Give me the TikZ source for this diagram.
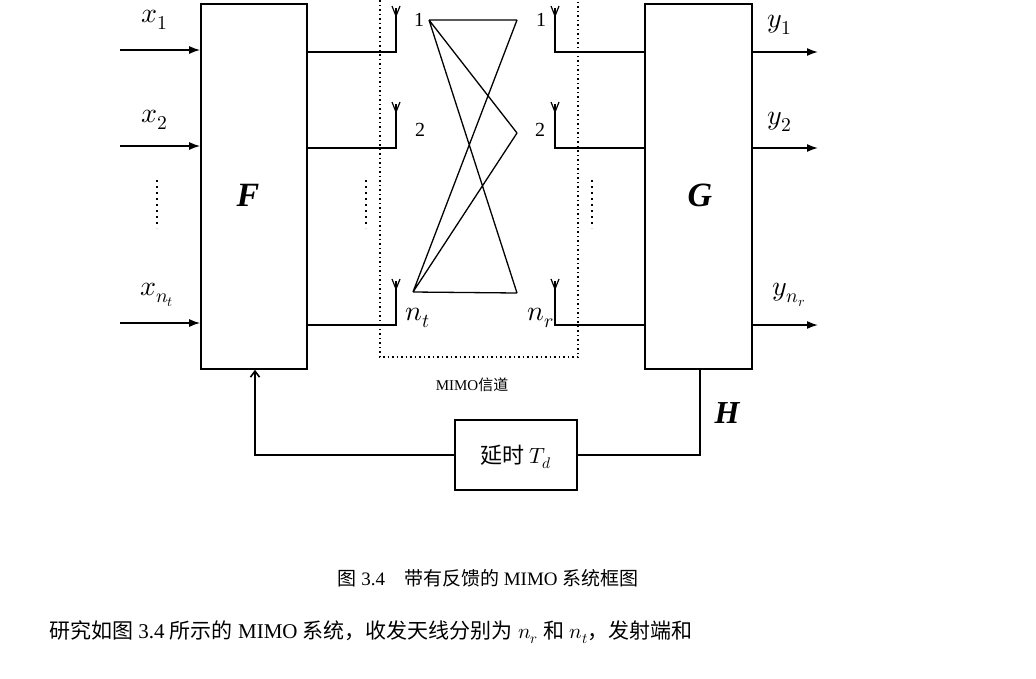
\documentclass[tikz,border=0pt]{standalone}
\usepackage{fontspec}
\usepackage{unicode-math}
\setmathfont{Latin Modern Math}
\setmainfont{Liberation Serif}
\newfontfamily\cjk{Noto Sans CJK SC}
\usetikzlibrary{arrows.meta,calc}
\begin{document}
\begin{tikzpicture}[x=1pt,y=-1pt,line width=1.6pt,
  box/.style={draw,inner sep=0},
  arr/.style={-{Latex[length=11pt,width=8pt]}},
  lbl/.style={font=\fontsize{28}{28}\selectfont},
  num/.style={font=\fontsize{20}{20}\selectfont},
  vd/.style={line width=2.4pt,dash pattern=on 2pt off 4pt}]
\useasboundingbox (0,0) rectangle (1036,678);
\node[box,minimum width=106pt,minimum height=365pt] (F) at (254,186.5) {};
\node[box,minimum width=107pt,minimum height=365pt] (G) at (698.5,186.5) {};
\node[font=\fontsize{34}{34}\selectfont\bfseries\itshape] at (248,195) {F};
\node[font=\fontsize{34}{34}\selectfont\bfseries\itshape] at (700,195) {G};
\node[font=\fontsize{32}{32}\selectfont\bfseries\itshape] (Hl) at (727,413) {H};
% inputs
\foreach \y in {50,146,323} {
  \coordinate (in\y) at (120,\y);
  \draw[arr] (in\y) -- (F.west |- in\y);
}
\node[lbl] at (155,20) {$x_1$};
\node[lbl] at (155,120) {$x_2$};
\node[lbl] at (157,295) {$x_{n_t}$};
\draw[vd] (157,180) -- (157,228);
% tx antennas
\foreach \y/\t in {52/a,148/b,325/c} {
  \coordinate (ta\t) at (396,\y);
  \draw (F.east |- ta\t) -- (ta\t) -- ++(0,-44);
  \draw[line width=1.2pt] ($(ta\t)+(0,-36)$) -- ++(-4,-10) ($(ta\t)+(0,-36)$) -- ++(4,-10);
}
\foreach \y/\t in {52/a,148/b,325/c} {
  \coordinate (ra\t) at (555,\y);
  \draw (G.west |- ra\t) -- (ra\t) -- ++(0,-44);
  \draw[line width=1.2pt] ($(ra\t)+(0,-36)$) -- ++(-4,-10) ($(ra\t)+(0,-36)$) -- ++(4,-10);
}
\node[num] at (419,20) {1};
\node[num] at (420,130) {2};
\node[lbl] at (418,318) {$n_t$};
\node[num] at (541,20) {1};
\node[num] at (540,130) {2};
\node[lbl] at (541,318) {$n_r$};
\draw[vd] (366,180) -- (366,228);
\draw[vd] (592,180) -- (592,228);
% channel
\coordinate (t1) at (429,20); \coordinate (tn) at (413,292);
\coordinate (r1) at (517,20); \coordinate (r2) at (517,133); \coordinate (rn) at (517,293);
\draw[line width=1.3pt] (t1) -- (r1) (t1) -- (r2) (t1) -- (rn) (tn) -- (r1) (tn) -- (r2) (tn) -- (rn);
\draw[line width=2pt,dash pattern=on 1.5pt off 3pt] (380,0) -- (380,357) -- (578,357) -- (578,0);
\node[font=\fontsize{15}{15}\selectfont] at (472,385) {MIMO{\cjk 信道}};
% outputs
\foreach \y in {52,148,325} {
  \coordinate (out\y) at (818,\y);
  \draw[arr] (G.east |- out\y) -- (out\y);
}
\node[lbl] at (780,25) {$y_1$};
\node[lbl] at (780,122) {$y_2$};
\node[lbl] at (789,295) {$y_{n_r}$};
% feedback
\node[box,minimum width=122pt,minimum height=70pt] (D) at (516,455) {};
\node[font=\fontsize{22}{22}\selectfont] at (516,457) {{\cjk 延时} $T_d$};
\draw (G.south -| 700,0) |- (D.east);
\draw[-{Straight Barb[length=6pt,width=9pt]}] (D.west) -| (F.south -| 255,0);
\node[font=\fontsize{19}{19}\selectfont] at (488,578) {{\cjk 图} 3.4\quad{\cjk 带有反馈的} MIMO {\cjk 系统框图}};
\node[font=\fontsize{21}{21}\selectfont,anchor=west] at (45,632) {{\cjk 研究如图} 3.4 {\cjk 所示的} MIMO {\cjk 系统，收发天线分别为} $n_r$ {\cjk 和} $n_t${\cjk ，发射端和}};
\end{tikzpicture}
\end{document}
